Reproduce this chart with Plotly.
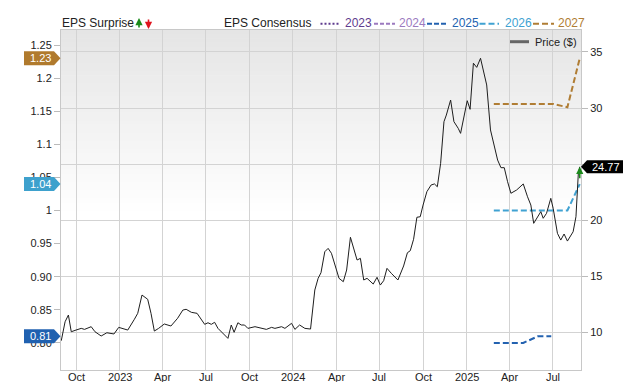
import plotly.graph_objects as go

# ---------------- data ----------------
price_dates = [
    "2022-08-31", "2022-09-08", "2022-09-15", "2022-09-21", "2022-10-01", "2022-10-12", "2022-10-19",
    "2022-11-02", "2022-11-10", "2022-11-23", "2022-12-05", "2022-12-20", "2022-12-30",
    "2023-01-18", "2023-02-01", "2023-02-08", "2023-02-17", "2023-03-01", "2023-03-08", "2023-03-15",
    "2023-03-24", "2023-04-05", "2023-04-19", "2023-05-03", "2023-05-14", "2023-05-21", "2023-06-01",
    "2023-06-13", "2023-06-29", "2023-07-06", "2023-07-13", "2023-07-20", "2023-07-27", "2023-08-07",
    "2023-08-17", "2023-08-24", "2023-08-30", "2023-09-07", "2023-09-14", "2023-09-21", "2023-09-28",
    "2023-10-13", "2023-10-23", "2023-11-06", "2023-11-17", "2023-11-24", "2023-12-08", "2023-12-15",
    "2023-12-29", "2024-01-05", "2024-01-15", "2024-01-26", "2024-02-07", "2024-02-12", "2024-02-16",
    "2024-02-23", "2024-02-29", "2024-03-08", "2024-03-15", "2024-03-22", "2024-03-29", "2024-04-07",
    "2024-04-16", "2024-04-23", "2024-05-01", "2024-05-08", "2024-05-15", "2024-05-22", "2024-05-29",
    "2024-06-05", "2024-06-18", "2024-06-26", "2024-07-03", "2024-07-10", "2024-07-17", "2024-07-26",
    "2024-08-02", "2024-08-09", "2024-08-21", "2024-08-29", "2024-09-04", "2024-09-11", "2024-09-18",
    "2024-09-25", "2024-10-01", "2024-10-09", "2024-10-18", "2024-10-25", "2024-10-31", "2024-11-07",
    "2024-11-14", "2024-11-19", "2024-11-28", "2024-12-05", "2024-12-14", "2024-12-19", "2025-01-02",
    "2025-01-08", "2025-01-15", "2025-01-22", "2025-01-30", "2025-02-12", "2025-02-20", "2025-02-27",
    "2025-03-07", "2025-03-14", "2025-03-21", "2025-03-28", "2025-04-04", "2025-04-16", "2025-04-30",
    "2025-05-09", "2025-05-16", "2025-05-22", "2025-05-31", "2025-06-06", "2025-06-11", "2025-06-18",
    "2025-06-27", "2025-07-02", "2025-07-11", "2025-07-18", "2025-07-25", "2025-08-01", "2025-08-13",
    "2025-08-19", "2025-08-24", "2025-08-27",
]
price_values = [
    9.27, 10.96, 11.56, 10.07, 10.22, 10.37, 10.28,
    10.52, 10.07, 9.69, 9.98, 9.87, 10.46,
    10.22, 11.18, 11.71, 13.34, 12.96, 11.71, 10.13,
    10.37, 10.76, 10.58, 11.27, 12.00, 12.07, 11.80,
    11.71, 10.73, 10.87, 10.73, 10.91, 10.37, 9.93,
    9.48, 10.67, 10.02, 10.87, 10.67, 10.67, 10.37,
    10.52, 10.43, 10.28, 10.46, 10.37, 10.52, 10.37,
    10.82, 10.28, 10.67, 10.37, 10.31, 12.00, 13.79,
    14.83, 15.33, 17.20, 17.50, 17.06, 16.02, 14.83,
    14.53, 15.57, 18.49, 17.35, 16.46, 16.61, 14.68,
    14.83, 14.32, 14.92, 14.23, 14.62, 15.72, 15.28,
    14.98, 14.68, 15.93, 17.11, 17.29, 18.31, 20.27,
    20.32, 21.36, 22.55, 23.15, 23.24, 22.99, 25.08,
    28.79, 29.38, 30.72, 28.79, 28.20, 27.75, 30.66,
    29.89, 34.00, 33.63, 34.44, 32.06, 28.05, 26.86,
    25.37, 24.69, 24.69, 23.44, 22.41, 22.70, 23.24,
    22.10, 21.36, 19.73, 20.32, 20.77, 20.18, 20.62,
    21.96, 21.07, 18.84, 18.24, 18.78, 18.15, 18.98,
    20.32, 24.19, 24.77,
]
last_price = 24.77

eps_2025_dates = ["2025-02-27", "2025-04-30", "2025-05-31", "2025-06-28"]
eps_2025_values = [0.80, 0.80, 0.81, 0.81]
eps_2026_dates = ["2025-02-27", "2025-08-01", "2025-08-27"]
eps_2026_values = [1.00, 1.00, 1.04]
eps_2027_dates = ["2025-02-27", "2025-07-02", "2025-08-01", "2025-08-27"]
eps_2027_values = [1.161, 1.161, 1.156, 1.23]

tag_values = [1.23, 1.04, 0.81]
tag_labels = ["1.23", "1.04", "0.81"]

legend_years = ["2023", "2024", "2025", "2026", "2027"]

x_tickvals = ["2022-10-01", "2023-01-01", "2023-04-01", "2023-07-01", "2023-10-01", "2024-01-01",
              "2024-04-01", "2024-07-01", "2024-10-01", "2025-01-01", "2025-04-01", "2025-07-01"]
x_ticktext = ["Oct", "2023", "Apr", "Jul", "Oct", "2024", "Apr", "Jul", "Oct", "2025", "Apr", "Jul"]
yl_tickvals = [0.80, 0.85, 0.90, 0.95, 1.00, 1.05, 1.10, 1.15, 1.20, 1.25]
yl_ticktext = ["0.80", "0.85", "0.90", "0.95", "1", "1.05", "1.1", "1.15", "1.2", "1.25"]
yr_tickvals = [10, 15, 20, 25, 30, 35]
yr_ticktext = ["10", "15", "20", "", "30", "35"]  # 25 sits under the price tag

# ---------------- styles ----------------
W, H = 640, 382
L, R, T, B = 61, 59, 30, 12
PW, PH = W - L - R, H - T - B

C2023 = "#5e3b8e"
C2024 = "#9c7abf"
C2025 = "#2362b0"
C2026 = "#40a2d2"
C2027 = "#b07d34"
TAGC = {"1.23": "#b07a2d", "1.04": "#3ea1cd", "0.81": "#2061b0"}
year_colors = [C2023, C2024, C2025, C2026, C2027]
GRID = "#d3d3d3"
FONT = "Liberation Sans, Arial, sans-serif"


def px(xp):
    return (xp - L) / PW


def py(yp):
    return (H - B - yp) / PH


fig = go.Figure()

fig.add_trace(go.Scatter(x=price_dates, y=price_values, mode="lines", yaxis="y2",
                         line=dict(color="#1e1e1e", width=1), showlegend=False, hoverinfo="skip"))
for d, v, c in [(eps_2025_dates, eps_2025_values, C2025),
                (eps_2026_dates, eps_2026_values, C2026),
                (eps_2027_dates, eps_2027_values, C2027)]:
    fig.add_trace(go.Scatter(x=d, y=v, mode="lines", yaxis="y",
                             line=dict(color=c, width=2, dash="6px,3px"),
                             showlegend=False, hoverinfo="skip"))

shapes = []
# gradient background
N = 45
top_px, end_px = T, 215
for i in range(N):
    y0 = top_px + (end_px - top_px) * i / N
    y1 = top_px + (end_px - top_px) * (i + 1) / N + 0.6
    g = int(round(229 + (255 - 229) * (i + 0.5) / N))
    shapes.append(dict(type="rect", xref="paper", yref="paper", x0=0, x1=1,
                       y0=py(y1), y1=py(y0), fillcolor=f"rgb({g},{g},{g})",
                       line=dict(width=0), layer="below"))

annotations = []

# x tick labels (placed as text so they sit close under the axis)
for tv, tt in zip(x_tickvals, x_ticktext):
    annotations.append(dict(x=tv, y=py(377), xref="x", yref="paper", text=tt, showarrow=False,
                            xanchor="center", yanchor="middle",
                            font=dict(size=11, color="#222", family=FONT)))

# left value tags
for v, lab in zip(tag_values, tag_labels):
    hh = 7 / 662
    x0, x1, xt = px(24), px(54), px(60.5)
    path = f"M{x0},{v - hh} L{x1},{v - hh} L{xt},{v} L{x1},{v + hh} L{x0},{v + hh} Z"
    shapes.append(dict(type="path", xref="paper", yref="y", path=path,
                       fillcolor=TAGC[lab], line=dict(width=0), layer="above"))
    annotations.append(dict(x=px(40), y=v, xref="paper", yref="y", text=lab, showarrow=False,
                            font=dict(color="white", size=11, family=FONT), xanchor="center"))

# right price tag
hh2 = 6.5 / 11.22
x0r, x1r, x2r = px(581), px(587), px(623)
path = (f"M{x0r},{last_price} L{x1r},{last_price - hh2} L{x2r},{last_price - hh2} "
        f"L{x2r},{last_price + hh2} L{x1r},{last_price + hh2} Z")
shapes.append(dict(type="path", xref="paper", yref="y2", path=path,
                   fillcolor="black", line=dict(width=0), layer="above"))
annotations.append(dict(x=px(590), y=last_price, xref="paper", yref="y2", text=f"{last_price:.2f}",
                        showarrow=False, xanchor="left",
                        font=dict(color="white", size=11, family=FONT)))

# surprise arrow on the price line
annotations.append(dict(x=price_dates[-1], y=last_price, xref="x", yref="y2", text="",
                        showarrow=True, ax=0, ay=13, arrowhead=2, arrowsize=0.9, arrowwidth=1.6,
                        arrowcolor="#1b8a1b", standoff=0))

# top legend
LY = 23.3
annotations.append(dict(x=px(60), y=py(LY), xref="paper", yref="paper", text="EPS Surprise",
                        showarrow=False, xanchor="left", yanchor="middle",
                        font=dict(size=12, color="#222", family=FONT)))
annotations.append(dict(x=px(139), y=py(18), xref="paper", yref="paper", text="", showarrow=True,
                        ax=0, ay=11, arrowhead=2, arrowsize=0.9, arrowwidth=1.6, arrowcolor="#1b8a1b",
                        standoff=0))
annotations.append(dict(x=px(148.5), y=py(29), xref="paper", yref="paper", text="", showarrow=True,
                        ax=0, ay=-11, arrowhead=2, arrowsize=0.9, arrowwidth=1.6, arrowcolor="#e0141e",
                        standoff=0))
annotations.append(dict(x=px(222), y=py(LY), xref="paper", yref="paper", text="EPS Consensus",
                        showarrow=False, xanchor="left", yanchor="middle",
                        font=dict(size=12, color="#222", family=FONT)))
line_x = [(320.5, 339), (374, 395), (427, 447), (479.5, 499), (533, 554)]
text_x = [343, 396.5, 449.5, 502.5, 556]
dashes = ["2px,2px", "4px,2px", "5px,2px", "6px,3px", "6px,3px"]
for yr, c, (a, b), tx, ds in zip(legend_years, year_colors, line_x, text_x, dashes):
    shapes.append(dict(type="line", xref="paper", yref="paper", x0=px(a), x1=px(b),
                       y0=py(LY + 0.5), y1=py(LY + 0.5), line=dict(color=c, width=2, dash=ds)))
    annotations.append(dict(x=px(tx), y=py(LY), xref="paper", yref="paper", text=yr,
                            showarrow=False, xanchor="left", yanchor="middle",
                            font=dict(size=12, color=c, family=FONT)))

# price legend
shapes.append(dict(type="line", xref="paper", yref="paper", x0=px(510), x1=px(529),
                   y0=py(41.7), y1=py(41.7), line=dict(color="#666", width=3)))
annotations.append(dict(x=px(533), y=py(41.7), xref="paper", yref="paper", text="Price ($)",
                        showarrow=False, xanchor="left", yanchor="middle",
                        font=dict(size=11, color="#222", family=FONT)))

fig.update_layout(
    width=W, height=H,
    margin=dict(l=L, r=R, t=T, b=B, pad=0),
    paper_bgcolor="white", plot_bgcolor="white",
    font=dict(family=FONT, size=11, color="#222"),
    showlegend=False,
    shapes=shapes, annotations=annotations,
    xaxis=dict(type="date", range=["2022-08-30 10:00", "2025-08-29 15:00"],
               tickvals=x_tickvals, ticktext=x_ticktext, showticklabels=False,
               showgrid=True, gridcolor=GRID,
               gridwidth=1, showline=True, linecolor="#c8c8c8", mirror=True, ticks="",
               automargin=False, zeroline=False),
    yaxis=dict(range=[0.7591, 1.2727], tickvals=yl_tickvals, ticktext=yl_ticktext,
               showgrid=False, showline=True, linecolor="#c8c8c8", mirror=False,
               ticks="outside", ticklen=6, tickcolor="#bbbbbb",
               tickfont=dict(size=11, color="#222"), automargin=False, zeroline=False),
    yaxis2=dict(range=[6.66, 36.96], tickvals=yr_tickvals, ticktext=yr_ticktext,
                overlaying="y", side="right",
                showgrid=True, gridcolor=GRID, showline=True, linecolor="#c8c8c8",
                ticks="outside", ticklen=6, tickcolor="#bbbbbb",
                tickfont=dict(size=11, color="#222"), automargin=False, zeroline=False),
)

fig.write_html("out.html", config={"displayModeBar": False},
               post_script="document.body.style.margin='0px';")
